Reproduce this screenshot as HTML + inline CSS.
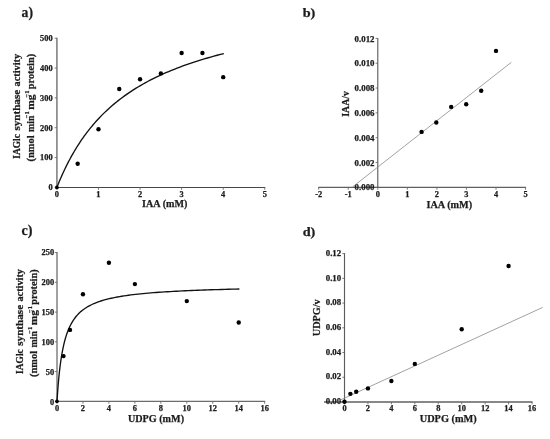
<!DOCTYPE html><html><head><meta charset="utf-8"><style>html,body{margin:0;padding:0;background:#fff}svg{display:block}text{font-family:"Liberation Serif","DejaVu Serif",serif;font-weight:bold;fill:#1c1c1c;stroke:#1c1c1c;stroke-width:0.25px}</style></head><body>
<svg width="550" height="439" viewBox="0 0 550 439">
<rect width="550" height="439" fill="#fff"/>
<text x="21.6" y="17.3" font-size="14" textLength="11.4" lengthAdjust="spacingAndGlyphs">a)</text>
<line x1="56.40" y1="187.4" x2="265.30" y2="187.4" stroke="#484848" stroke-width="1.05"/>
<line x1="56.9" y1="37.70" x2="56.9" y2="187.4" stroke="#8a8a8a" stroke-width="1.7"/>
<line x1="56.90" y1="187.4" x2="56.90" y2="189.8" stroke="#6a6a6a" stroke-width="0.9"/>
<text x="56.90" y="196.80" font-size="7.9" text-anchor="middle" textLength="4.20" lengthAdjust="spacingAndGlyphs">0</text>
<line x1="98.48" y1="187.4" x2="98.48" y2="189.8" stroke="#6a6a6a" stroke-width="0.9"/>
<text x="98.48" y="196.80" font-size="7.9" text-anchor="middle" textLength="4.20" lengthAdjust="spacingAndGlyphs">1</text>
<line x1="140.06" y1="187.4" x2="140.06" y2="189.8" stroke="#6a6a6a" stroke-width="0.9"/>
<text x="140.06" y="196.80" font-size="7.9" text-anchor="middle" textLength="4.20" lengthAdjust="spacingAndGlyphs">2</text>
<line x1="181.64" y1="187.4" x2="181.64" y2="189.8" stroke="#6a6a6a" stroke-width="0.9"/>
<text x="181.64" y="196.80" font-size="7.9" text-anchor="middle" textLength="4.20" lengthAdjust="spacingAndGlyphs">3</text>
<line x1="223.22" y1="187.4" x2="223.22" y2="189.8" stroke="#6a6a6a" stroke-width="0.9"/>
<text x="223.22" y="196.80" font-size="7.9" text-anchor="middle" textLength="4.20" lengthAdjust="spacingAndGlyphs">4</text>
<line x1="264.80" y1="187.4" x2="264.80" y2="189.8" stroke="#6a6a6a" stroke-width="0.9"/>
<text x="264.80" y="196.80" font-size="7.9" text-anchor="middle" textLength="4.20" lengthAdjust="spacingAndGlyphs">5</text>
<line x1="54.699999999999996" y1="187.40" x2="56.9" y2="187.40" stroke="#6a6a6a" stroke-width="0.9"/>
<text x="52.70" y="190.30" font-size="7.9" text-anchor="end" textLength="4.20" lengthAdjust="spacingAndGlyphs">0</text>
<line x1="54.699999999999996" y1="157.56" x2="56.9" y2="157.56" stroke="#6a6a6a" stroke-width="0.9"/>
<text x="52.70" y="160.46" font-size="7.9" text-anchor="end" textLength="12.60" lengthAdjust="spacingAndGlyphs">100</text>
<line x1="54.699999999999996" y1="127.72" x2="56.9" y2="127.72" stroke="#6a6a6a" stroke-width="0.9"/>
<text x="52.70" y="130.62" font-size="7.9" text-anchor="end" textLength="12.60" lengthAdjust="spacingAndGlyphs">200</text>
<line x1="54.699999999999996" y1="97.88" x2="56.9" y2="97.88" stroke="#6a6a6a" stroke-width="0.9"/>
<text x="52.70" y="100.78" font-size="7.9" text-anchor="end" textLength="12.60" lengthAdjust="spacingAndGlyphs">300</text>
<line x1="54.699999999999996" y1="68.04" x2="56.9" y2="68.04" stroke="#6a6a6a" stroke-width="0.9"/>
<text x="52.70" y="70.94" font-size="7.9" text-anchor="end" textLength="12.60" lengthAdjust="spacingAndGlyphs">400</text>
<line x1="54.699999999999996" y1="38.20" x2="56.9" y2="38.20" stroke="#6a6a6a" stroke-width="0.9"/>
<text x="52.70" y="41.10" font-size="7.9" text-anchor="end" textLength="12.60" lengthAdjust="spacingAndGlyphs">500</text>
<text x="164.75" y="207.20" font-size="10.5" text-anchor="middle" textLength="45.30" lengthAdjust="spacingAndGlyphs">IAA (mM)</text>
<path d="M56.90,187.40 L56.92,187.36 L56.97,187.23 L57.05,187.01 L57.17,186.71 L57.33,186.32 L57.51,185.85 L57.73,185.30 L57.99,184.66 L58.28,183.95 L58.60,183.16 L58.96,182.29 L59.35,181.35 L59.78,180.34 L60.24,179.26 L60.73,178.11 L61.26,176.90 L61.82,175.63 L62.42,174.30 L63.05,172.91 L63.71,171.47 L64.41,169.99 L65.14,168.45 L65.91,166.88 L66.71,165.26 L67.55,163.60 L68.41,161.92 L69.32,160.20 L70.25,158.45 L71.23,156.67 L72.23,154.88 L73.27,153.06 L74.34,151.23 L75.45,149.38 L76.59,147.51 L77.77,145.64 L78.98,143.76 L80.22,141.88 L81.50,139.99 L82.81,138.10 L84.15,136.21 L85.53,134.32 L86.95,132.44 L88.39,130.56 L89.88,128.69 L91.39,126.82 L92.94,124.97 L94.53,123.13 L96.14,121.30 L97.80,119.48 L99.48,117.68 L101.20,115.90 L102.96,114.13 L104.75,112.37 L106.57,110.64 L108.43,108.92 L110.32,107.22 L112.24,105.54 L114.20,103.88 L116.19,102.24 L118.22,100.63 L120.28,99.03 L122.38,97.45 L124.51,95.90 L126.67,94.36 L128.87,92.85 L131.10,91.36 L133.36,89.89 L135.66,88.44 L138.00,87.01 L140.36,85.61 L142.77,84.23 L145.20,82.87 L147.67,81.53 L150.17,80.21 L152.71,78.91 L155.28,77.63 L157.89,76.38 L160.53,75.14 L163.21,73.93 L165.91,72.73 L168.66,71.56 L171.43,70.40 L174.24,69.26 L177.09,68.15 L179.97,67.05 L182.88,65.97 L185.83,64.91 L188.81,63.87 L191.82,62.85 L194.87,61.84 L197.95,60.85 L201.07,59.88 L204.22,58.92 L207.41,57.98 L210.63,57.06 L213.88,56.16 L217.17,55.27 L220.49,54.39 L223.84,53.53" fill="none" stroke="#111" stroke-width="1.35" stroke-linejoin="round"/>
<circle cx="56.90" cy="187.40" r="1.85" fill="#000"/>
<circle cx="77.69" cy="163.68" r="2.2" fill="#000"/>
<circle cx="98.48" cy="129.21" r="2.2" fill="#000"/>
<circle cx="119.27" cy="88.93" r="2.2" fill="#000"/>
<circle cx="140.06" cy="79.20" r="2.2" fill="#000"/>
<circle cx="160.85" cy="73.41" r="2.2" fill="#000"/>
<circle cx="181.64" cy="52.94" r="2.2" fill="#000"/>
<circle cx="202.43" cy="52.94" r="2.2" fill="#000"/>
<circle cx="223.22" cy="77.14" r="2.2" fill="#000"/>
<g transform="translate(20.00,158.80) rotate(-90)">
<text x="0.00" y="0.00" font-size="10.8" textLength="24.70" lengthAdjust="spacingAndGlyphs">IAGlc</text>
<text x="28.20" y="0.00" font-size="10.8" textLength="40.80" lengthAdjust="spacingAndGlyphs">synthase</text>
<text x="72.40" y="0.00" font-size="10.8" textLength="32.50" lengthAdjust="spacingAndGlyphs">activity</text>
</g>
<g transform="translate(33.70,161.40) rotate(-90)">
<text x="0.00" y="0.00" font-size="10.8" textLength="26.00" lengthAdjust="spacingAndGlyphs">(nmol</text>
<text x="29.40" y="0.00" font-size="10.8" textLength="16.40" lengthAdjust="spacingAndGlyphs">min</text>
<text x="43.20" y="-5.00" font-size="6.5" textLength="7.00" lengthAdjust="spacingAndGlyphs">−1</text>
<text x="51.70" y="0.00" font-size="10.8" textLength="15.30" lengthAdjust="spacingAndGlyphs">mg</text>
<text x="64.00" y="-5.00" font-size="6.5" textLength="7.00" lengthAdjust="spacingAndGlyphs">−1</text>
<text x="72.20" y="0.00" font-size="10.8" textLength="35.40" lengthAdjust="spacingAndGlyphs">protein)</text>
</g>
<text x="302.7" y="17.3" font-size="13.2" textLength="12.7" lengthAdjust="spacingAndGlyphs">b)</text>
<line x1="318.20" y1="187.3" x2="526.05" y2="187.3" stroke="#606060" stroke-width="1.3"/>
<line x1="377.8" y1="37.90" x2="377.8" y2="187.3" stroke="#505050" stroke-width="1.05"/>
<line x1="318.70" y1="187.3" x2="318.70" y2="189.70000000000002" stroke="#6a6a6a" stroke-width="0.9"/>
<text x="318.70" y="196.70" font-size="7.9" text-anchor="middle" textLength="7.00" lengthAdjust="spacingAndGlyphs">-2</text>
<line x1="348.25" y1="187.3" x2="348.25" y2="189.70000000000002" stroke="#6a6a6a" stroke-width="0.9"/>
<text x="348.25" y="196.70" font-size="7.9" text-anchor="middle" textLength="7.00" lengthAdjust="spacingAndGlyphs">-1</text>
<line x1="377.80" y1="187.3" x2="377.80" y2="189.70000000000002" stroke="#6a6a6a" stroke-width="0.9"/>
<text x="377.80" y="196.70" font-size="7.9" text-anchor="middle" textLength="4.20" lengthAdjust="spacingAndGlyphs">0</text>
<line x1="407.35" y1="187.3" x2="407.35" y2="189.70000000000002" stroke="#6a6a6a" stroke-width="0.9"/>
<text x="407.35" y="196.70" font-size="7.9" text-anchor="middle" textLength="4.20" lengthAdjust="spacingAndGlyphs">1</text>
<line x1="436.90" y1="187.3" x2="436.90" y2="189.70000000000002" stroke="#6a6a6a" stroke-width="0.9"/>
<text x="436.90" y="196.70" font-size="7.9" text-anchor="middle" textLength="4.20" lengthAdjust="spacingAndGlyphs">2</text>
<line x1="466.45" y1="187.3" x2="466.45" y2="189.70000000000002" stroke="#6a6a6a" stroke-width="0.9"/>
<text x="466.45" y="196.70" font-size="7.9" text-anchor="middle" textLength="4.20" lengthAdjust="spacingAndGlyphs">3</text>
<line x1="496.00" y1="187.3" x2="496.00" y2="189.70000000000002" stroke="#6a6a6a" stroke-width="0.9"/>
<text x="496.00" y="196.70" font-size="7.9" text-anchor="middle" textLength="4.20" lengthAdjust="spacingAndGlyphs">4</text>
<line x1="525.55" y1="187.3" x2="525.55" y2="189.70000000000002" stroke="#6a6a6a" stroke-width="0.9"/>
<text x="525.55" y="196.70" font-size="7.9" text-anchor="middle" textLength="4.20" lengthAdjust="spacingAndGlyphs">5</text>
<line x1="375.6" y1="187.30" x2="377.8" y2="187.30" stroke="#6a6a6a" stroke-width="0.9"/>
<text x="374.50" y="190.40" font-size="7.9" text-anchor="end" textLength="19.91" lengthAdjust="spacingAndGlyphs">0.000</text>
<line x1="375.6" y1="162.48" x2="377.8" y2="162.48" stroke="#6a6a6a" stroke-width="0.9"/>
<text x="374.50" y="165.58" font-size="7.9" text-anchor="end" textLength="19.91" lengthAdjust="spacingAndGlyphs">0.002</text>
<line x1="375.6" y1="137.67" x2="377.8" y2="137.67" stroke="#6a6a6a" stroke-width="0.9"/>
<text x="374.50" y="140.77" font-size="7.9" text-anchor="end" textLength="19.91" lengthAdjust="spacingAndGlyphs">0.004</text>
<line x1="375.6" y1="112.85" x2="377.8" y2="112.85" stroke="#6a6a6a" stroke-width="0.9"/>
<text x="374.50" y="115.95" font-size="7.9" text-anchor="end" textLength="19.91" lengthAdjust="spacingAndGlyphs">0.006</text>
<line x1="375.6" y1="88.04" x2="377.8" y2="88.04" stroke="#6a6a6a" stroke-width="0.9"/>
<text x="374.50" y="91.14" font-size="7.9" text-anchor="end" textLength="19.91" lengthAdjust="spacingAndGlyphs">0.008</text>
<line x1="375.6" y1="63.22" x2="377.8" y2="63.22" stroke="#6a6a6a" stroke-width="0.9"/>
<text x="374.50" y="66.32" font-size="7.9" text-anchor="end" textLength="19.91" lengthAdjust="spacingAndGlyphs">0.010</text>
<line x1="375.6" y1="38.40" x2="377.8" y2="38.40" stroke="#6a6a6a" stroke-width="0.9"/>
<text x="374.50" y="41.50" font-size="7.9" text-anchor="end" textLength="19.91" lengthAdjust="spacingAndGlyphs">0.012</text>
<text x="449.30" y="208.00" font-size="10.5" text-anchor="middle" textLength="45.80" lengthAdjust="spacingAndGlyphs">IAA (mM)</text>
<line x1="352.3" y1="187.1" x2="511.3" y2="62.3" stroke="#8a8a8a" stroke-width="0.8"/>
<circle cx="421.60" cy="131.90" r="2.2" fill="#000"/>
<circle cx="436.30" cy="122.50" r="2.2" fill="#000"/>
<circle cx="451.20" cy="106.90" r="2.2" fill="#000"/>
<circle cx="466.20" cy="104.30" r="2.2" fill="#000"/>
<circle cx="481.20" cy="90.80" r="2.2" fill="#000"/>
<circle cx="496.00" cy="50.90" r="2.2" fill="#000"/>
<text transform="translate(348.90,116.70) rotate(-90)" font-size="10.8" textLength="25.60" lengthAdjust="spacingAndGlyphs">IAA/v</text>
<text x="21.6" y="234.5" font-size="14" textLength="11.0" lengthAdjust="spacingAndGlyphs">c)</text>
<line x1="56.50" y1="401.3" x2="265.18" y2="401.3" stroke="#484848" stroke-width="1.0"/>
<line x1="57" y1="252.10" x2="57" y2="401.3" stroke="#5c5c5c" stroke-width="1.15"/>
<line x1="57.00" y1="401.3" x2="57.00" y2="403.7" stroke="#6a6a6a" stroke-width="0.9"/>
<text x="57.00" y="410.70" font-size="7.9" text-anchor="middle" textLength="4.20" lengthAdjust="spacingAndGlyphs">0</text>
<line x1="82.96" y1="401.3" x2="82.96" y2="403.7" stroke="#6a6a6a" stroke-width="0.9"/>
<text x="82.96" y="410.70" font-size="7.9" text-anchor="middle" textLength="4.20" lengthAdjust="spacingAndGlyphs">2</text>
<line x1="108.92" y1="401.3" x2="108.92" y2="403.7" stroke="#6a6a6a" stroke-width="0.9"/>
<text x="108.92" y="410.70" font-size="7.9" text-anchor="middle" textLength="4.20" lengthAdjust="spacingAndGlyphs">4</text>
<line x1="134.88" y1="401.3" x2="134.88" y2="403.7" stroke="#6a6a6a" stroke-width="0.9"/>
<text x="134.88" y="410.70" font-size="7.9" text-anchor="middle" textLength="4.20" lengthAdjust="spacingAndGlyphs">6</text>
<line x1="160.84" y1="401.3" x2="160.84" y2="403.7" stroke="#6a6a6a" stroke-width="0.9"/>
<text x="160.84" y="410.70" font-size="7.9" text-anchor="middle" textLength="4.20" lengthAdjust="spacingAndGlyphs">8</text>
<line x1="186.80" y1="401.3" x2="186.80" y2="403.7" stroke="#6a6a6a" stroke-width="0.9"/>
<text x="186.80" y="410.70" font-size="7.9" text-anchor="middle" textLength="8.40" lengthAdjust="spacingAndGlyphs">10</text>
<line x1="212.76" y1="401.3" x2="212.76" y2="403.7" stroke="#6a6a6a" stroke-width="0.9"/>
<text x="212.76" y="410.70" font-size="7.9" text-anchor="middle" textLength="8.40" lengthAdjust="spacingAndGlyphs">12</text>
<line x1="238.72" y1="401.3" x2="238.72" y2="403.7" stroke="#6a6a6a" stroke-width="0.9"/>
<text x="238.72" y="410.70" font-size="7.9" text-anchor="middle" textLength="8.40" lengthAdjust="spacingAndGlyphs">14</text>
<line x1="264.68" y1="401.3" x2="264.68" y2="403.7" stroke="#6a6a6a" stroke-width="0.9"/>
<text x="264.68" y="410.70" font-size="7.9" text-anchor="middle" textLength="8.40" lengthAdjust="spacingAndGlyphs">16</text>
<line x1="54.8" y1="401.30" x2="57" y2="401.30" stroke="#6a6a6a" stroke-width="0.9"/>
<text x="54.20" y="404.60" font-size="7.9" text-anchor="end" textLength="4.20" lengthAdjust="spacingAndGlyphs">0</text>
<line x1="54.8" y1="371.56" x2="57" y2="371.56" stroke="#6a6a6a" stroke-width="0.9"/>
<text x="54.20" y="374.58" font-size="7.9" text-anchor="end" textLength="8.40" lengthAdjust="spacingAndGlyphs">50</text>
<line x1="54.8" y1="341.82" x2="57" y2="341.82" stroke="#6a6a6a" stroke-width="0.9"/>
<text x="54.20" y="344.56" font-size="7.9" text-anchor="end" textLength="12.60" lengthAdjust="spacingAndGlyphs">100</text>
<line x1="54.8" y1="312.08" x2="57" y2="312.08" stroke="#6a6a6a" stroke-width="0.9"/>
<text x="54.20" y="314.54" font-size="7.9" text-anchor="end" textLength="12.60" lengthAdjust="spacingAndGlyphs">150</text>
<line x1="54.8" y1="282.34" x2="57" y2="282.34" stroke="#6a6a6a" stroke-width="0.9"/>
<text x="54.20" y="284.52" font-size="7.9" text-anchor="end" textLength="12.60" lengthAdjust="spacingAndGlyphs">200</text>
<line x1="54.8" y1="252.60" x2="57" y2="252.60" stroke="#6a6a6a" stroke-width="0.9"/>
<text x="54.20" y="254.50" font-size="7.9" text-anchor="end" textLength="12.60" lengthAdjust="spacingAndGlyphs">250</text>
<text x="156.00" y="421.90" font-size="10.5" text-anchor="middle" textLength="56.10" lengthAdjust="spacingAndGlyphs">UDPG (mM)</text>
<path d="M57.00,401.30 L57.02,401.00 L57.07,400.10 L57.17,398.64 L57.30,396.65 L57.47,394.20 L57.67,391.34 L57.91,388.15 L58.19,384.69 L58.51,381.05 L58.86,377.28 L59.25,373.44 L59.68,369.58 L60.14,365.75 L60.65,361.98 L61.19,358.31 L61.76,354.75 L62.38,351.32 L63.03,348.03 L63.72,344.88 L64.44,341.89 L65.21,339.05 L66.01,336.36 L66.84,333.81 L67.72,331.41 L68.63,329.14 L69.58,327.00 L70.56,324.98 L71.59,323.09 L72.65,321.30 L73.75,319.61 L74.88,318.03 L76.05,316.53 L77.26,315.13 L78.51,313.80 L79.79,312.55 L81.11,311.37 L82.47,310.26 L83.87,309.20 L85.30,308.21 L86.77,307.27 L88.28,306.38 L89.82,305.54 L91.40,304.74 L93.02,303.99 L94.68,303.27 L96.37,302.59 L98.10,301.95 L99.87,301.34 L101.68,300.75 L103.52,300.20 L105.40,299.67 L107.31,299.17 L109.27,298.69 L111.26,298.23 L113.29,297.80 L115.35,297.38 L117.45,296.99 L119.59,296.61 L121.77,296.24 L123.99,295.90 L126.24,295.56 L128.53,295.24 L130.85,294.94 L133.22,294.65 L135.62,294.36 L138.05,294.09 L140.53,293.84 L143.04,293.59 L145.59,293.35 L148.18,293.12 L150.80,292.90 L153.46,292.68 L156.16,292.48 L158.89,292.28 L161.67,292.09 L164.48,291.91 L167.32,291.73 L170.21,291.56 L173.13,291.39 L176.09,291.23 L179.08,291.08 L182.11,290.93 L185.18,290.79 L188.29,290.65 L191.44,290.52 L194.62,290.39 L197.84,290.26 L201.09,290.14 L204.39,290.02 L207.72,289.91 L211.09,289.79 L214.49,289.69 L217.93,289.58 L221.41,289.48 L224.93,289.38 L228.48,289.29 L232.07,289.20 L235.70,289.11 L239.37,289.02" fill="none" stroke="#111" stroke-width="1.35" stroke-linejoin="round"/>
<circle cx="57.00" cy="401.30" r="1.85" fill="#000"/>
<circle cx="63.49" cy="356.10" r="2.2" fill="#000"/>
<circle cx="69.98" cy="329.92" r="2.2" fill="#000"/>
<circle cx="82.96" cy="294.24" r="2.2" fill="#000"/>
<circle cx="108.92" cy="262.71" r="2.2" fill="#000"/>
<circle cx="134.88" cy="284.12" r="2.2" fill="#000"/>
<circle cx="186.80" cy="301.08" r="2.2" fill="#000"/>
<circle cx="238.72" cy="322.43" r="2.2" fill="#000"/>
<g transform="translate(22.80,373.90) rotate(-90)">
<text x="0.00" y="0.00" font-size="10.8" textLength="24.70" lengthAdjust="spacingAndGlyphs">IAGlc</text>
<text x="28.20" y="0.00" font-size="10.8" textLength="40.80" lengthAdjust="spacingAndGlyphs">synthase</text>
<text x="72.40" y="0.00" font-size="10.8" textLength="32.50" lengthAdjust="spacingAndGlyphs">activity</text>
</g>
<g transform="translate(36.70,376.90) rotate(-90)">
<text x="0.00" y="0.00" font-size="10.8" textLength="26.00" lengthAdjust="spacingAndGlyphs">(nmol</text>
<text x="29.40" y="0.00" font-size="10.8" textLength="16.40" lengthAdjust="spacingAndGlyphs">min</text>
<text x="43.20" y="-5.00" font-size="6.5" textLength="7.00" lengthAdjust="spacingAndGlyphs">−1</text>
<text x="51.70" y="0.00" font-size="10.8" textLength="15.30" lengthAdjust="spacingAndGlyphs">mg</text>
<text x="64.00" y="-5.00" font-size="6.5" textLength="7.00" lengthAdjust="spacingAndGlyphs">−1</text>
<text x="72.20" y="0.00" font-size="10.8" textLength="35.40" lengthAdjust="spacingAndGlyphs">protein)</text>
</g>
<text x="302.7" y="236.2" font-size="13.2" textLength="12.7" lengthAdjust="spacingAndGlyphs">d)</text>
<line x1="324.00" y1="402.0" x2="532.52" y2="402.0" stroke="#606060" stroke-width="1.4"/>
<line x1="344.5" y1="253.10" x2="344.5" y2="402.0" stroke="#5c5c5c" stroke-width="1.15"/>
<line x1="344.50" y1="402.0" x2="344.50" y2="404.4" stroke="#6a6a6a" stroke-width="0.9"/>
<text x="344.50" y="411.40" font-size="7.9" text-anchor="middle" textLength="4.20" lengthAdjust="spacingAndGlyphs">0</text>
<line x1="367.94" y1="402.0" x2="367.94" y2="404.4" stroke="#6a6a6a" stroke-width="0.9"/>
<text x="367.94" y="411.40" font-size="7.9" text-anchor="middle" textLength="4.20" lengthAdjust="spacingAndGlyphs">2</text>
<line x1="391.38" y1="402.0" x2="391.38" y2="404.4" stroke="#6a6a6a" stroke-width="0.9"/>
<text x="391.38" y="411.40" font-size="7.9" text-anchor="middle" textLength="4.20" lengthAdjust="spacingAndGlyphs">4</text>
<line x1="414.82" y1="402.0" x2="414.82" y2="404.4" stroke="#6a6a6a" stroke-width="0.9"/>
<text x="414.82" y="411.40" font-size="7.9" text-anchor="middle" textLength="4.20" lengthAdjust="spacingAndGlyphs">6</text>
<line x1="438.26" y1="402.0" x2="438.26" y2="404.4" stroke="#6a6a6a" stroke-width="0.9"/>
<text x="438.26" y="411.40" font-size="7.9" text-anchor="middle" textLength="4.20" lengthAdjust="spacingAndGlyphs">8</text>
<line x1="461.70" y1="402.0" x2="461.70" y2="404.4" stroke="#6a6a6a" stroke-width="0.9"/>
<text x="461.70" y="411.40" font-size="7.9" text-anchor="middle" textLength="8.40" lengthAdjust="spacingAndGlyphs">10</text>
<line x1="485.14" y1="402.0" x2="485.14" y2="404.4" stroke="#6a6a6a" stroke-width="0.9"/>
<text x="485.14" y="411.40" font-size="7.9" text-anchor="middle" textLength="8.40" lengthAdjust="spacingAndGlyphs">12</text>
<line x1="508.58" y1="402.0" x2="508.58" y2="404.4" stroke="#6a6a6a" stroke-width="0.9"/>
<text x="508.58" y="411.40" font-size="7.9" text-anchor="middle" textLength="8.40" lengthAdjust="spacingAndGlyphs">14</text>
<line x1="532.02" y1="402.0" x2="532.02" y2="404.4" stroke="#6a6a6a" stroke-width="0.9"/>
<text x="532.02" y="411.40" font-size="7.9" text-anchor="middle" textLength="8.40" lengthAdjust="spacingAndGlyphs">16</text>
<line x1="342.3" y1="402.00" x2="344.5" y2="402.00" stroke="#6a6a6a" stroke-width="0.9"/>
<text x="341.20" y="404.20" font-size="7.9" text-anchor="end" textLength="15.49" lengthAdjust="spacingAndGlyphs">0.00</text>
<line x1="342.3" y1="377.27" x2="344.5" y2="377.27" stroke="#6a6a6a" stroke-width="0.9"/>
<text x="341.20" y="379.47" font-size="7.9" text-anchor="end" textLength="15.49" lengthAdjust="spacingAndGlyphs">0.02</text>
<line x1="342.3" y1="352.53" x2="344.5" y2="352.53" stroke="#6a6a6a" stroke-width="0.9"/>
<text x="341.20" y="354.73" font-size="7.9" text-anchor="end" textLength="15.49" lengthAdjust="spacingAndGlyphs">0.04</text>
<line x1="342.3" y1="327.80" x2="344.5" y2="327.80" stroke="#6a6a6a" stroke-width="0.9"/>
<text x="341.20" y="330.00" font-size="7.9" text-anchor="end" textLength="15.49" lengthAdjust="spacingAndGlyphs">0.06</text>
<line x1="342.3" y1="303.06" x2="344.5" y2="303.06" stroke="#6a6a6a" stroke-width="0.9"/>
<text x="341.20" y="305.26" font-size="7.9" text-anchor="end" textLength="15.49" lengthAdjust="spacingAndGlyphs">0.08</text>
<line x1="342.3" y1="278.33" x2="344.5" y2="278.33" stroke="#6a6a6a" stroke-width="0.9"/>
<text x="341.20" y="280.53" font-size="7.9" text-anchor="end" textLength="15.49" lengthAdjust="spacingAndGlyphs">0.10</text>
<line x1="342.3" y1="253.60" x2="344.5" y2="253.60" stroke="#6a6a6a" stroke-width="0.9"/>
<text x="341.20" y="255.80" font-size="7.9" text-anchor="end" textLength="15.49" lengthAdjust="spacingAndGlyphs">0.12</text>
<text x="448.20" y="421.90" font-size="10.5" text-anchor="middle" textLength="57.00" lengthAdjust="spacingAndGlyphs">UDPG (mM)</text>
<line x1="337.4" y1="401.4" x2="542.7" y2="307.4" stroke="#8a8a8a" stroke-width="0.8"/>
<circle cx="344.50" cy="401.80" r="2.2" fill="#000"/>
<circle cx="350.36" cy="393.84" r="2.2" fill="#000"/>
<circle cx="356.22" cy="391.74" r="2.2" fill="#000"/>
<circle cx="367.94" cy="388.40" r="2.2" fill="#000"/>
<circle cx="391.38" cy="380.98" r="2.2" fill="#000"/>
<circle cx="414.82" cy="363.91" r="2.2" fill="#000"/>
<circle cx="461.70" cy="329.28" r="2.2" fill="#000"/>
<circle cx="508.58" cy="265.96" r="2.2" fill="#000"/>
<text transform="translate(319.80,336.25) rotate(-90)" font-size="10.8" textLength="36.90" lengthAdjust="spacingAndGlyphs">UDPG/v</text>
</svg></body></html>
